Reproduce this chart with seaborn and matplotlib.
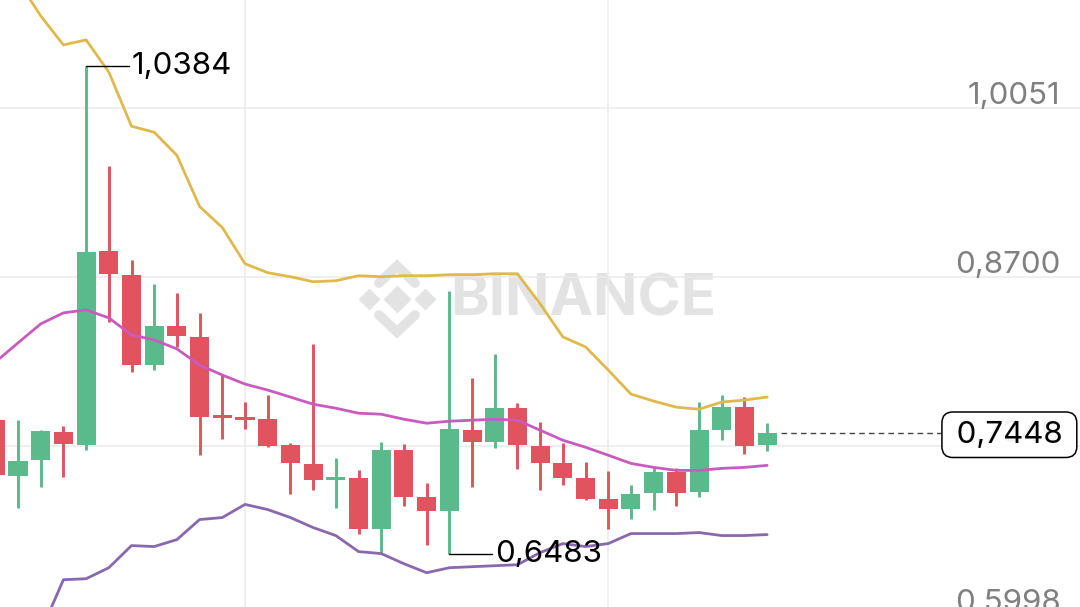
import numpy as np
import pandas as pd
import matplotlib
matplotlib.use("Agg")
import matplotlib.pyplot as plt
import seaborn as sns

# OHLC (price units)
opens = [0.7553, 0.7104, 0.7232, 0.7457, 0.7353, 0.8909, 0.8716, 0.7994, 0.8307, 0.8219,
         0.7585, 0.7569, 0.7561, 0.7353, 0.7200, 0.7072, 0.7088, 0.6687, 0.7313, 0.6936,
         0.6831, 0.7473, 0.7377, 0.7649, 0.7345, 0.7208, 0.7088, 0.6920, 0.6847, 0.6968,
         0.7136, 0.6976, 0.7473, 0.7657, 0.7353]
highs = [0.7593, 0.7553, 0.7473, 0.7505, 1.0384, 0.9582, 0.8836, 0.8644, 0.8572, 0.8411,
         0.7922, 0.7698, 0.7754, 0.7369, 0.8163, 0.7248, 0.7152, 0.7377, 0.7361, 0.7048,
         0.8588, 0.7890, 0.8082, 0.7689, 0.7537, 0.7369, 0.7216, 0.7144, 0.7032, 0.7168,
         0.7168, 0.7698, 0.7754, 0.7738, 0.7529]
lows = [0.7072, 0.6855, 0.7016, 0.7096, 0.7313, 0.8339, 0.7938, 0.7954, 0.8139, 0.7273,
        0.7401, 0.7481, 0.7337, 0.6960, 0.6992, 0.6855, 0.6647, 0.6495, 0.6871, 0.6559,
        0.6483, 0.7016, 0.7329, 0.7160, 0.6992, 0.7032, 0.6912, 0.6687, 0.6767, 0.6839,
        0.6871, 0.6936, 0.7393, 0.7281, 0.7305]
closes = [0.7112, 0.7224, 0.7465, 0.7361, 0.8900, 0.8724, 0.7994, 0.8307, 0.8227, 0.7577,
          0.7569, 0.7553, 0.7345, 0.7208, 0.7072, 0.7088, 0.6687, 0.7313, 0.6936, 0.6831,
          0.7481, 0.7377, 0.7649, 0.7353, 0.7208, 0.7088, 0.6920, 0.6847, 0.6960, 0.7136,
          0.6968, 0.7473, 0.7657, 0.7345, 0.7448]

# Bollinger bands
boll_up = [1.1363, 1.1066, 1.0785, 1.0553, 1.0593, 1.0336, 0.9903, 0.9855, 0.9670, 0.9261,
           0.9093, 0.8804, 0.8732, 0.8700, 0.8660, 0.8668, 0.8708, 0.8700, 0.8708, 0.8708,
           0.8716, 0.8716, 0.8724, 0.8724, 0.8483, 0.8219, 0.8139, 0.7954, 0.7762, 0.7706,
           0.7657, 0.7641, 0.7698, 0.7714, 0.7738]
boll_mid = [0.8018, 0.8171, 0.8323, 0.8411, 0.8435, 0.8371, 0.8235, 0.8195, 0.8123, 0.7994,
            0.7914, 0.7842, 0.7794, 0.7738, 0.7681, 0.7649, 0.7609, 0.7601, 0.7561, 0.7529,
            0.7545, 0.7553, 0.7561, 0.7553, 0.7473, 0.7393, 0.7337, 0.7273, 0.7208, 0.7176,
            0.7152, 0.7152, 0.7168, 0.7176, 0.7192]
boll_dn = [0.4674, 0.5276, 0.5861, 0.6278, 0.6286, 0.6374, 0.6551, 0.6543, 0.6599, 0.6759,
           0.6775, 0.6880, 0.6839, 0.6775, 0.6695, 0.6631, 0.6503, 0.6487, 0.6406, 0.6334,
           0.6374, 0.6382, 0.6390, 0.6398, 0.6495, 0.6567, 0.6543, 0.6567, 0.6647, 0.6647,
           0.6647, 0.6655, 0.6631, 0.6631, 0.6639]

price_ticks = [1.0051, 0.8700, 0.7349, 0.5998]
time_grid = [11, 27]

df = pd.DataFrame({"open": opens, "high": highs, "low": lows, "close": closes,
                   "up": boll_up, "mid": boll_mid, "dn": boll_dn})
df["i"] = np.arange(len(df))

GREEN = "#5BBA8B"
RED = "#E0535F"

sns.set_theme(style="white")
plt.rcParams["font.family"] = ["Inter", "DejaVu Sans"]

fig = plt.figure(figsize=(10.8, 6.07), dpi=100)
ax = fig.add_axes([0, 0, 1, 1])
xlim = (0.207, 47.78)
ylim = (0.6060, 1.0912)
for s in ax.spines.values():
    s.set_visible(False)

# watermark
ax.text(583 / 1080, 1 - 300 / 607, "BINANCE", transform=ax.transAxes, ha="center",
        va="center", fontsize=42, fontweight="bold", color="#E3E3E3", zorder=0.5)
ft = fig.transFigure
def fp(x, y):
    return x / 1080, 1 - y / 607
wm = "#E3E3E3"
for (cx, cy, ms) in [(397, 299, 13), (369, 299, 10), (425, 299, 10)]:
    ax.plot(*fp(cx, cy), marker="D", ms=ms, color=wm, transform=ft, clip_on=False, zorder=0.5)
for sgn in (-1, 1):
    xs, ys = zip(*[fp(379, 299 + sgn * 16), fp(397, 299 + sgn * 33), fp(415, 299 + sgn * 16)])
    ax.plot(xs, ys, color=wm, lw=7, solid_joinstyle="miter", transform=ft, clip_on=False, zorder=0.5)

# candles
up = df["close"] >= df["open"]
colors = np.where(up, GREEN, RED)
ax.vlines(df["i"], df["low"], df["high"], colors=colors, lw=2.1, zorder=2)
body = np.maximum((df["close"] - df["open"]).abs(), 0.0025)
bottom = np.minimum(df["open"], df["close"])
ax.bar(df["i"], body, bottom=bottom, width=0.84, color=colors, zorder=3, linewidth=0)

# bollinger bands
sns.lineplot(data=df, x="i", y="up", color="#E0B94C", lw=2.0, ax=ax, zorder=4)
sns.lineplot(data=df, x="i", y="mid", color="#C95BBE", lw=2.0, ax=ax, zorder=4)
sns.lineplot(data=df, x="i", y="dn", color="#8A68AE", lw=2.0, ax=ax, zorder=4)
ax.set_xlabel("")
ax.set_ylabel("")

ax.set_yticks(price_ticks)
ax.set_xticks(time_grid)
ax.tick_params(length=0, labelleft=False, labelbottom=False)
ax.grid(True, color="#EBEBEB", lw=1.1, zorder=0)
ax.set_axisbelow(True)
ax.set_xlim(*xlim)
ax.set_ylim(*ylim)

def fmt(v):
    return f"{v:.4f}".replace(".", ",")

# high / low markers
hi_i = int(df["high"].idxmax())
lo_i = int(df["low"].idxmin())
for idx, val in [(hi_i, df["high"][hi_i]), (lo_i, df["low"][lo_i])]:
    ax.plot([idx, idx + 1.9], [val, val], color="black", lw=1.0, zorder=5)
    ax.text(idx + 2.0, val, fmt(val), ha="left", va="center", fontsize=22.5,
            color="black", zorder=5)

# price axis labels
for v in price_ticks:
    ax.annotate(fmt(v), xy=(1, v), xycoords=("axes fraction", "data"), xytext=(-14, 2.4),
                textcoords="offset points", ha="right", va="baseline", fontsize=22.5,
                color="#808080", zorder=5)

# last price
last = df["close"].iloc[-1]
x_box = xlim[0] + (946 / 1080) * (xlim[1] - xlim[0])
ax.plot([len(df) - 1 + 0.6, x_box], [last, last], color="#444444", lw=1.0,
        linestyle=(0, (4, 3)), zorder=5)
ax.annotate("\u2009" + fmt(last) + "\u2009", xy=(1, last), xycoords=("axes fraction", "data"),
            xytext=(-8.6, -1), textcoords="offset points", ha="right", va="center",
            fontsize=22.5, color="black", zorder=6,
            bbox=dict(boxstyle="round,pad=0.28,rounding_size=0.35", fc=(1, 1, 1, 0.9),
                      ec="black", lw=1.1))

fig.savefig("out.png", dpi=100)
